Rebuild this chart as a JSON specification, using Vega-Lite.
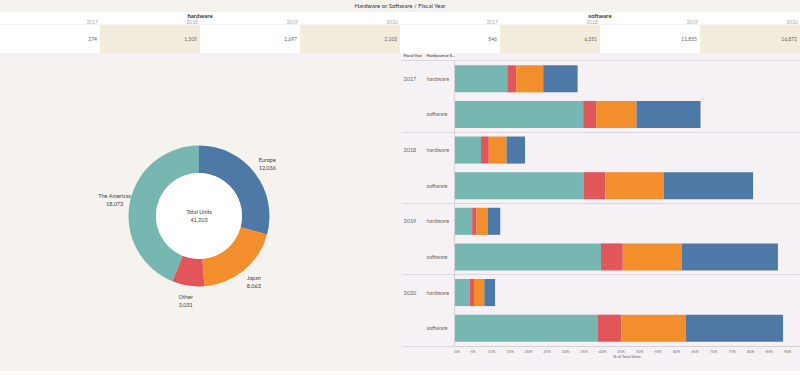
{
  "$schema": "https://vega.github.io/schema/vega-lite/v6.json",
  "background": "#f6f1f5",
  "padding": 0,
  "spacing": 0,
  "config": {"view": {"stroke": null}, "font": "Lato", "axis": {"labelOverlap": false}},
  "datasets": {
    "types": [{"type": "hardware"}, {"type": "software"}],
    "cross": [
      {"key": "hardware 2017", "year": "2017", "units": 274},
      {"key": "hardware 2018", "year": "2018", "units": 1505},
      {"key": "hardware 2019", "year": "2019", "units": 1697},
      {"key": "hardware 2020", "year": "2020", "units": 2103},
      {"key": "software 2017", "year": "2017", "units": 546},
      {"key": "software 2018", "year": "2018", "units": 6351},
      {"key": "software 2019", "year": "2019", "units": 11855},
      {"key": "software 2020", "year": "2020", "units": 16872}
    ],
    "regions": [
      {"region": "The Americas", "units": 18073},
      {"region": "Europe", "units": 12036},
      {"region": "Japan", "units": 8063},
      {"region": "Other", "units": 3031}
    ],
    "total": [{"label": "Total Units", "units": 41203}],
    "bars": [
      {"key": "2017 hardware", "region": "The Americas", "pct": 0.144},
      {"key": "2017 hardware", "region": "Other", "pct": 0.024},
      {"key": "2017 hardware", "region": "Japan", "pct": 0.073},
      {"key": "2017 hardware", "region": "Europe", "pct": 0.093},
      {"key": "2017 software", "region": "The Americas", "pct": 0.349},
      {"key": "2017 software", "region": "Other", "pct": 0.035},
      {"key": "2017 software", "region": "Japan", "pct": 0.109},
      {"key": "2017 software", "region": "Europe", "pct": 0.173},
      {"key": "2018 hardware", "region": "The Americas", "pct": 0.073},
      {"key": "2018 hardware", "region": "Other", "pct": 0.021},
      {"key": "2018 hardware", "region": "Japan", "pct": 0.048},
      {"key": "2018 hardware", "region": "Europe", "pct": 0.050},
      {"key": "2018 software", "region": "The Americas", "pct": 0.350},
      {"key": "2018 software", "region": "Other", "pct": 0.059},
      {"key": "2018 software", "region": "Japan", "pct": 0.157},
      {"key": "2018 software", "region": "Europe", "pct": 0.242},
      {"key": "2019 hardware", "region": "The Americas", "pct": 0.049},
      {"key": "2019 hardware", "region": "Other", "pct": 0.012},
      {"key": "2019 hardware", "region": "Japan", "pct": 0.030},
      {"key": "2019 hardware", "region": "Europe", "pct": 0.034},
      {"key": "2019 software", "region": "The Americas", "pct": 0.397},
      {"key": "2019 software", "region": "Other", "pct": 0.059},
      {"key": "2019 software", "region": "Japan", "pct": 0.159},
      {"key": "2019 software", "region": "Europe", "pct": 0.260},
      {"key": "2020 hardware", "region": "The Americas", "pct": 0.042},
      {"key": "2020 hardware", "region": "Other", "pct": 0.012},
      {"key": "2020 hardware", "region": "Japan", "pct": 0.028},
      {"key": "2020 hardware", "region": "Europe", "pct": 0.029},
      {"key": "2020 software", "region": "The Americas", "pct": 0.389},
      {"key": "2020 software", "region": "Other", "pct": 0.063},
      {"key": "2020 software", "region": "Japan", "pct": 0.174},
      {"key": "2020 software", "region": "Europe", "pct": 0.263}
    ]
  },
  "vconcat": [
    {
      "width": 800,
      "height": 12,
      "view": {"fill": "#f5f2ee", "stroke": null},
      "data": {"values": [{"title": "Hardware or Software / Fiscal Year"}]},
      "mark": {"type": "text", "fontSize": 6, "color": "#333"},
      "encoding": {"text": {"field": "title"}}
    },
    {
      "width": 800,
      "height": 12,
      "view": {"fill": "white", "stroke": null},
      "resolve": {"scale": {"x": "independent"}},
      "layer": [
        {
          "data": {"name": "types"},
          "mark": {"type": "text", "fontSize": 6, "fontWeight": "bold", "color": "#333", "dy": -2.5},
          "encoding": {
            "x": {"field": "type", "type": "nominal", "bandPosition": 0.5, "scale": {"type": "band", "paddingInner": 0, "paddingOuter": 0}, "axis": null},
            "text": {"field": "type"}
          }
        },
        {
          "data": {"name": "cross"},
          "mark": {"type": "text", "fontSize": 5, "color": "#aaa", "align": "right", "dx": -2, "dy": 3.5},
          "encoding": {
            "x": {
              "field": "key", "type": "nominal", "bandPosition": 1,
              "sort": ["hardware 2017", "hardware 2018", "hardware 2019", "hardware 2020", "software 2017", "software 2018", "software 2019", "software 2020"],
              "scale": {"type": "band", "paddingInner": 0, "paddingOuter": 0},
              "axis": null
            },
            "text": {"field": "year"}
          }
        }
      ]
    },
    {
      "width": 800,
      "height": 28,
      "view": {"fill": "white", "stroke": null},
      "data": {"name": "cross"},
      "layer": [
        {
          "mark": {"type": "bar"},
          "encoding": {
            "x": {
              "field": "key", "type": "nominal",
              "sort": ["hardware 2017", "hardware 2018", "hardware 2019", "hardware 2020", "software 2017", "software 2018", "software 2019", "software 2020"],
              "scale": {"type": "band", "paddingInner": 0, "paddingOuter": 0},
              "axis": null
            },
            "fill": {"field": "year", "type": "nominal", "scale": {"domain": ["2017", "2018", "2019", "2020"], "range": ["#ffffff", "#f3ecdc", "#ffffff", "#f3ecdc"]}, "legend": null}
          }
        },
        {
          "mark": {"type": "text", "align": "right", "dx": -3, "fontSize": 5, "color": "#666"},
          "encoding": {
            "x": {
              "field": "key", "type": "nominal", "bandPosition": 1,
              "sort": ["hardware 2017", "hardware 2018", "hardware 2019", "hardware 2020", "software 2017", "software 2018", "software 2019", "software 2020"]
            },
            "text": {"field": "units", "type": "quantitative", "format": ","}
          }
        }
      ]
    },
    {
      "spacing": 2,
      "hconcat": [
        {
          "width": 398,
          "height": 310,
          "view": {"fill": "#f6f2ee", "stroke": null},
          "layer": [
            {
              "data": {"name": "regions"},
              "mark": {"type": "arc", "outerRadius": 70.5, "innerRadius": 43},
              "encoding": {
                "theta": {"field": "units", "type": "quantitative", "stack": true},
                "color": {"field": "region", "type": "nominal", "scale": {"domain": ["The Americas", "Other", "Japan", "Europe"], "range": ["#76b7b2", "#e15759", "#f28e2b", "#4e79a7"]}, "legend": null},
                "order": {"field": "region", "sort": "ascending"}
              }
            },
            {
              "data": {"name": "total"},
              "mark": {"type": "arc", "outerRadius": 43, "fill": "white"},
              "encoding": {"theta": {"field": "units", "type": "quantitative"}}
            },
            {
              "data": {"name": "total"},
              "mark": {"type": "text", "dy": -4, "fontSize": 5.5, "color": "#444"},
              "encoding": {"text": {"field": "label"}}
            },
            {
              "data": {"name": "total"},
              "mark": {"type": "text", "dy": 4, "fontSize": 5.5, "color": "#444"},
              "encoding": {"text": {"field": "units", "type": "quantitative", "format": ","}}
            },
            {
              "data": {"name": "regions"},
              "mark": {"type": "text", "radius": 86, "dy": -4, "fontSize": 5.5, "color": "#444"},
              "encoding": {
                "theta": {"field": "units", "type": "quantitative", "stack": true},
                "detail": {"field": "region"},
                "order": {"field": "region", "sort": "ascending"},
                "text": {"field": "region"}
              }
            },
            {
              "data": {"name": "regions"},
              "mark": {"type": "text", "radius": 86, "dy": 4, "fontSize": 5.5, "color": "#444"},
              "encoding": {
                "theta": {"field": "units", "type": "quantitative", "stack": true},
                "detail": {"field": "region"},
                "order": {"field": "region", "sort": "ascending"},
                "text": {"field": "units", "type": "quantitative", "format": ","}
              }
            }
          ]
        },
        {
          "width": 345,
          "height": 285,
          "data": {"name": "bars"},
          "resolve": {"axis": {"y": "independent"}},
          "layer": [
            {
              "mark": {"type": "bar"},
              "encoding": {
                "y": {
                  "field": "key", "type": "nominal",
                  "sort": ["2017 hardware", "2017 software", "2018 hardware", "2018 software", "2019 hardware", "2019 software", "2020 hardware", "2020 software"],
                  "scale": {"type": "band", "paddingInner": 0.24, "paddingOuter": 0.12},
                  "axis": {"orient": "left", "title": "Hardware or S…", "titleX": -28, "titleY": -4, "titleAngle": 0, "titleAlign": "left", "titleBaseline": "bottom", "titleFontSize": 4, "titleFontWeight": "bold", "titleColor": "#555", "labelExpr": "split(datum.value, ' ')[1]", "labelAlign": "left", "labelPadding": 28, "labelFontSize": 5.5, "labelColor": "#666", "ticks": false, "domain": true, "domainColor": "#d4d0d4", "grid": false, "zindex": 1}
                },
                "x": {
                  "field": "pct", "type": "quantitative", "stack": "zero",
                  "scale": {"domain": [0, 0.932], "nice": false},
                  "axis": {"orient": "bottom", "values": [0, 0.05, 0.1, 0.15, 0.2, 0.25, 0.3, 0.35, 0.4, 0.45, 0.5, 0.55, 0.6, 0.65, 0.7, 0.75, 0.8, 0.85, 0.9], "format": ".0%", "labelOverlap": false, "labelFontSize": 3.8, "labelColor": "#777", "labelPadding": 3, "ticks": false, "domain": true, "domainColor": "#d4d0d4", "grid": false, "title": "% of Total Units", "titleFontSize": 4, "titleFontWeight": "normal", "titleColor": "#555", "titlePadding": 2}
                },
                "color": {"field": "region", "type": "nominal", "scale": {"domain": ["The Americas", "Other", "Japan", "Europe"], "range": ["#76b7b2", "#e15759", "#f28e2b", "#4e79a7"]}, "legend": null},
                "order": {"field": "region", "sort": "descending"}
              }
            },
            {
              "mark": {"type": "bar", "opacity": 0},
              "encoding": {
                "x": {
                  "field": "pct", "type": "quantitative", "stack": "zero",
                  "axis": {"orient": "bottom", "values": [0, 0.05, 0.1, 0.15, 0.2, 0.25, 0.3, 0.35, 0.4, 0.45, 0.5, 0.55, 0.6, 0.65, 0.7, 0.75, 0.8, 0.85, 0.9], "format": ".0%", "labelOverlap": false, "labelFontSize": 3.8, "labelColor": "#777", "labelPadding": 3, "ticks": false, "domain": true, "domainColor": "#d4d0d4", "grid": false, "title": "% of Total Units", "titleFontSize": 4, "titleFontWeight": "normal", "titleColor": "#555", "titlePadding": 2}
                },
                "y": {
                  "field": "key", "type": "nominal",
                  "sort": ["2017 hardware", "2017 software", "2018 hardware", "2018 software", "2019 hardware", "2019 software", "2020 hardware", "2020 software"],
                  "axis": {"orient": "left", "values": ["2017 hardware", "2018 hardware", "2019 hardware", "2020 hardware"], "title": "Fiscal Year", "titleX": -51, "titleY": -4, "titleAngle": 0, "titleAlign": "left", "titleBaseline": "bottom", "titleFontSize": 4, "titleFontWeight": "bold", "titleColor": "#555", "labelExpr": "split(datum.value, ' ')[0]", "labelAlign": "left", "labelPadding": 51, "labelFontSize": 5.5, "labelColor": "#666", "ticks": false, "domain": false, "grid": false}
                }
              }
            },
            {
              "mark": {"type": "bar", "opacity": 0},
              "encoding": {
                "x": {
                  "field": "pct", "type": "quantitative", "stack": "zero",
                  "axis": {"orient": "bottom", "values": [0, 0.05, 0.1, 0.15, 0.2, 0.25, 0.3, 0.35, 0.4, 0.45, 0.5, 0.55, 0.6, 0.65, 0.7, 0.75, 0.8, 0.85, 0.9], "format": ".0%", "labelOverlap": false, "labelFontSize": 3.8, "labelColor": "#777", "labelPadding": 3, "ticks": false, "domain": true, "domainColor": "#d4d0d4", "grid": false, "title": "% of Total Units", "titleFontSize": 4, "titleFontWeight": "normal", "titleColor": "#555", "titlePadding": 2}
                },
                "y": {
                  "field": "key", "type": "nominal",
                  "sort": ["2017 hardware", "2017 software", "2018 hardware", "2018 software", "2019 hardware", "2019 software", "2020 hardware", "2020 software"],
                  "axis": {"orient": "left", "values": ["2017 software", "2018 software", "2019 software", "2020 software"], "bandPosition": 1.158, "tickExtra": false, "ticks": true, "tickSize": 53, "tickColor": "#dcd7dc", "grid": true, "gridColor": "#dcd7dc", "labels": false, "domain": false, "title": null}
                }
              }
            },
            {
              "mark": {"type": "bar", "opacity": 0},
              "encoding": {
                "x": {
                  "field": "pct", "type": "quantitative", "stack": "zero",
                  "axis": {"orient": "bottom", "values": [0, 0.05, 0.1, 0.15, 0.2, 0.25, 0.3, 0.35, 0.4, 0.45, 0.5, 0.55, 0.6, 0.65, 0.7, 0.75, 0.8, 0.85, 0.9], "format": ".0%", "labelOverlap": false, "labelFontSize": 3.8, "labelColor": "#777", "labelPadding": 3, "ticks": false, "domain": true, "domainColor": "#d4d0d4", "grid": false, "title": "% of Total Units", "titleFontSize": 4, "titleFontWeight": "normal", "titleColor": "#555", "titlePadding": 2}
                },
                "y": {
                  "field": "key", "type": "nominal",
                  "sort": ["2017 hardware", "2017 software", "2018 hardware", "2018 software", "2019 hardware", "2019 software", "2020 hardware", "2020 software"],
                  "axis": {"orient": "left", "values": ["2017 hardware"], "bandPosition": -0.158, "tickExtra": false, "ticks": true, "tickSize": 53, "tickColor": "#dcd7dc", "grid": true, "gridColor": "#dcd7dc", "labels": false, "domain": false, "title": null}
                }
              }
            }
          ]
        }
      ]
    }
  ]
}
